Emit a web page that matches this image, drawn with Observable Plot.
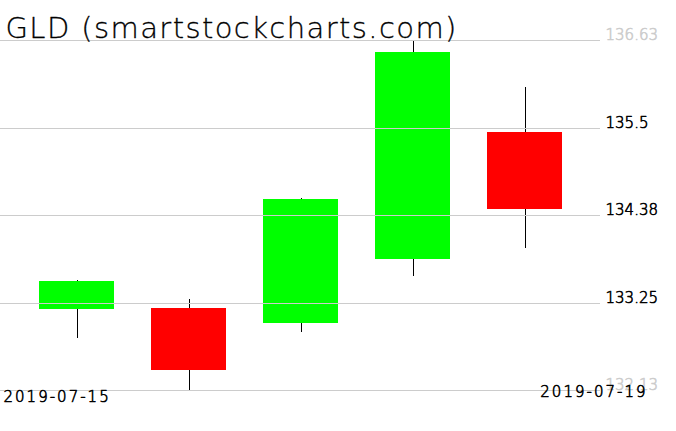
<!DOCTYPE html>
<html>
<head>
<meta charset="utf-8">
<script src="https://cdn.jsdelivr.net/npm/d3@7"></script>
<script src="https://cdn.jsdelivr.net/npm/@observablehq/plot@0.6"></script>
<style>
  html, body { margin: 0; padding: 0; background: #fff; }
  #chart { width: 676px; height: 431px; }
</style>
</head>
<body>
<div id="chart"></div>
<script>
const title = "GLD (smartstockcharts.com)";
const dates = ["2019-07-15", "2019-07-16", "2019-07-17", "2019-07-18", "2019-07-19"];
const open  = [133.17, 133.18, 132.99, 133.81, 135.45];
const high  = [133.54, 133.30, 134.60, 136.62, 136.03];
const low   = [132.80, 132.13, 132.88, 133.60, 133.96];
const close = [133.53, 132.39, 134.59, 136.48, 134.46];
const yTicks = [132.13, 133.255, 134.38, 135.505, 136.63];
const yTickLabels = ["132.13", "133.25", "134.38", "135.5", "136.63"];
const yTickFaded = [true, false, false, false, true];
const xTickLabels = ["2019-07-15", "2019-07-19"];

const candles = dates.map((d, i) => ({
  date: d, open: open[i], high: high[i], low: low[i], close: close[i],
  up: close[i] >= open[i]
}));
const ticks = yTicks.map((v, i) => ({ v, label: yTickLabels[i], faded: yTickFaded[i] }));

const font = "'DejaVu Sans', sans-serif";
const thin = { fontSize: 15, fontWeight: 200, strokeWidth: 0.6 };

const plot = Plot.plot({
  width: 676,
  height: 431,
  marginTop: 40,
  marginBottom: 41,
  marginLeft: 0,
  marginRight: 76,
  style: { fontFamily: font, background: "#fff", overflow: "visible" },
  x: { type: "band", domain: dates, range: [0, 600], padding: 1 / 3, axis: null },
  y: { domain: [yTicks[0], yTicks[yTicks.length - 1]], axis: null },
  marks: [
    Plot.ruleX(candles, { x: "date", y1: "low", y2: "high", stroke: "#000", strokeWidth: 1, shapeRendering: "crispEdges" }),
    Plot.barY(candles, {
      x: "date", y1: "open", y2: "close",
      fill: d => d.up ? "#00ff00" : "#ff0000", shapeRendering: "crispEdges"
    }),
    Plot.ruleY(ticks, { y: "v", stroke: "#cccccc", strokeWidth: 1, shapeRendering: "crispEdges" }),
    Plot.text(ticks, {
      y: "v", text: "label", frameAnchor: "right", textAnchor: "start",
      dx: 5, dy: -5, ...thin,
      fill: d => d.faded ? "#cccccc" : "#000",
      stroke: d => d.faded ? "#cccccc" : "#000"
    }),
    Plot.text([xTickLabels[0]], {
      text: d => d, frameAnchor: "bottom-left", textAnchor: "start",
      dx: 3, dy: 11, ...thin, fill: "#000", stroke: "#000"
    }),
    Plot.text([xTickLabels[1]], {
      text: d => d, frameAnchor: "bottom-right", textAnchor: "end",
      dx: 47, dy: 6, ...thin, fill: "#000", stroke: "#000"
    }),
    Plot.text([title], {
      text: d => d, frameAnchor: "top-left", textAnchor: "start", lineAnchor: "top",
      dx: 5, dy: -23, fontSize: 29, fontWeight: 200, fill: "#000", stroke: "#000", strokeWidth: 0.3
    })
  ]
});

// widen the stroke-font-like lettering to match the reference
d3.select(plot).selectAll("text").each(function () {
  const t = this.textContent;
  if (t === title) this.style.letterSpacing = "1.4px";
  else if (xTickLabels.includes(t)) this.style.letterSpacing = "2px";
});

document.getElementById("chart").appendChild(plot);
</script>
</body>
</html>
